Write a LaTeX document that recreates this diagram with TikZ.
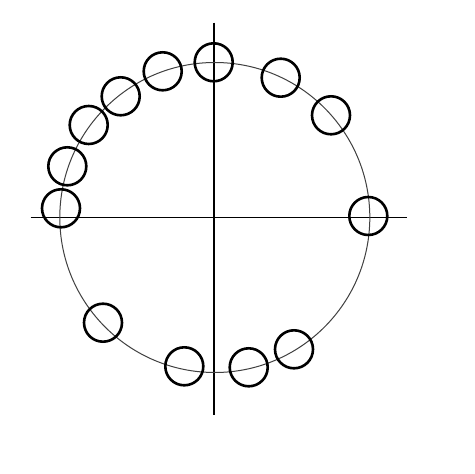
\documentclass[tikz,border=0pt]{standalone}
\begin{document}
\begin{tikzpicture}[x=0.5pt,y=-0.5pt,
  hole/.style={draw=black,circle,inner sep=0pt,minimum size=19pt,line width=1.3pt},
  ring/.style={draw=black!75,circle,inner sep=0pt,minimum size=155pt,line width=0.5pt},
  axis/.style={draw=black,line width=0.55pt}]
\useasboundingbox (0,0) rectangle (474,474);
\fill[white] (0,0) rectangle (474,474);
\coordinate (xl) at (30.7,217.5);
\coordinate (xr) at (406.7,217.5);
\coordinate (yt) at (214,22.7);
\coordinate (yb) at (214,415);
\draw[axis] (xl) -- (xr);
\draw[axis] (yt) -- (yb);
\node[ring] (ring) at (214.8,217.5) {};
\node[hole] (c1) at (213.7,62.3) {};
\node[hole] (c2) at (280.7,77.7) {};
\node[hole] (c3) at (331,115.3) {};
\node[hole] (c4) at (368.3,216) {};
\node[hole] (c5) at (294,349.3) {};
\node[hole] (c6) at (248.7,367.3) {};
\node[hole] (c7) at (184.3,366.3) {};
\node[hole] (c8) at (103,322.7) {};
\node[hole] (c9) at (61,208.3) {};
\node[hole] (c10) at (67.3,166.3) {};
\node[hole] (c11) at (88.7,125) {};
\node[hole] (c12) at (120.7,96.3) {};
\node[hole] (c13) at (162.7,71.3) {};
\end{tikzpicture}
\end{document}
